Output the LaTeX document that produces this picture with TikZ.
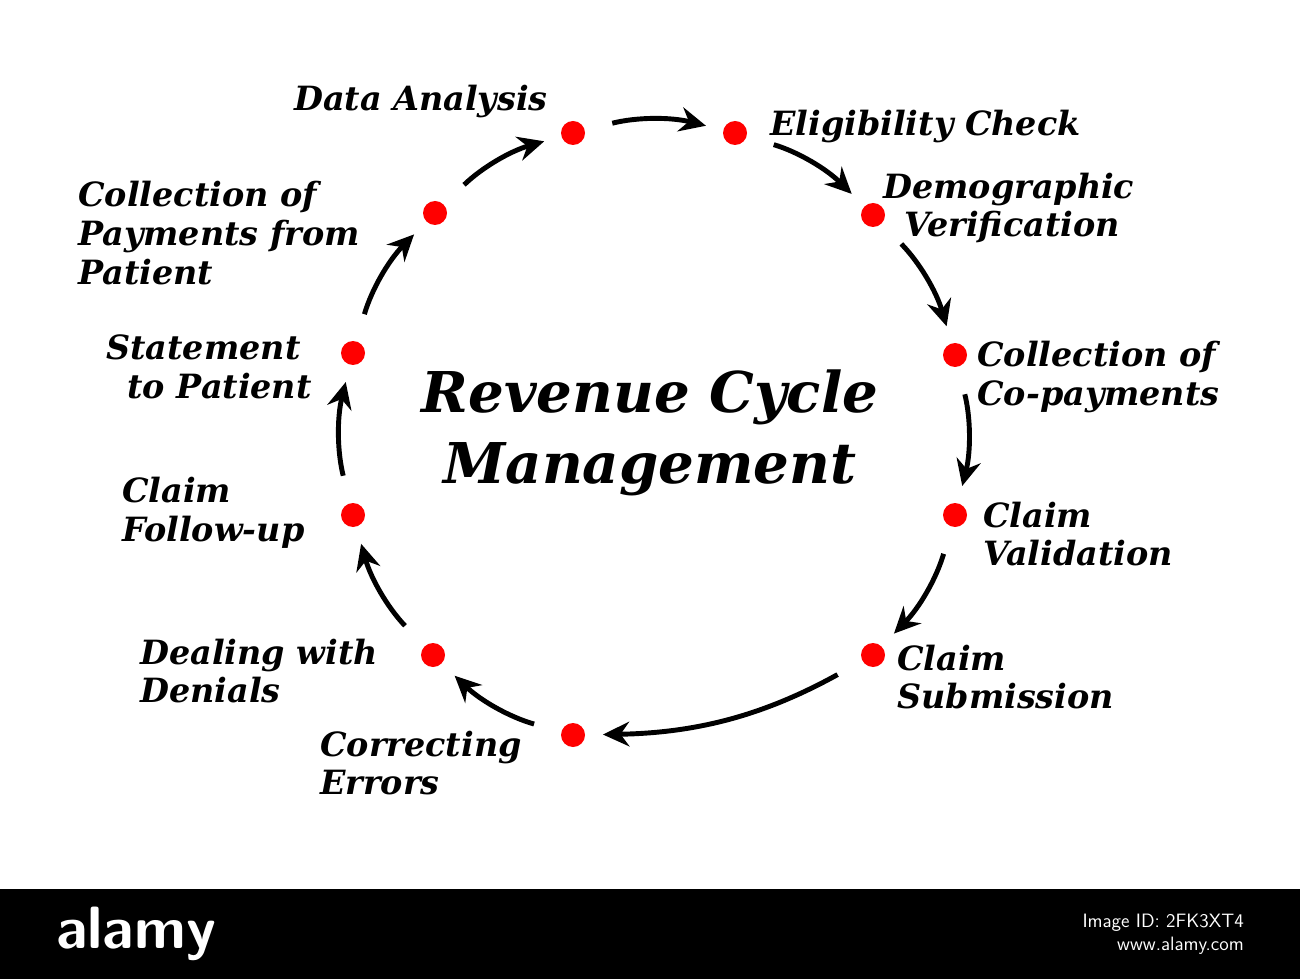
\documentclass[tikz,border=0pt]{standalone}
\usepackage{fontspec}
\setmainfont{DejaVu Serif}
\usetikzlibrary{arrows.meta}
\begin{document}
\begin{tikzpicture}[x=0.02cm,y=-0.02cm,
 dot/.style={circle,fill=red,inner sep=0pt,minimum size=24*0.02cm},
 lbl/.style={font=\fontsize{19}{22}\selectfont\itshape\bfseries,inner sep=0pt,align=left},
 arr/.style={-{Stealth[length=15pt,width=14pt,inset=5pt]},line width=2.8pt,shorten <=16pt,shorten >=10pt}]
\useasboundingbox (0,0) rectangle (1300,979);
\fill[white] (0,0) rectangle (1300,889);
\fill[black] (0,889) rectangle (1300,979);
\node[white,font=\fontsize{34}{36}\selectfont\sffamily\bfseries,anchor=west] (al) at (50,934) {alamy};
\node[white,font=\fontsize{11}{13}\selectfont\sffamily,align=right,anchor=east] (id) at (1250,934) {Image ID: 2FK3XT4\\www.alamy.com};
\node[dot] (a) at (573,133) {};
\node[dot] (b) at (735,133) {};
\node[dot] (c) at (873,215) {};
\node[dot] (d) at (955,355) {};
\node[dot] (e) at (955,515) {};
\node[dot] (f) at (873,655) {};
\node[dot] (g) at (573,735) {};
\node[dot] (h) at (433,655) {};
\node[dot] (i) at (353,515) {};
\node[dot] (j) at (353,353) {};
\node[dot] (k) at (435,213) {};
\foreach \p/\q in {a/b,b/c,c/d,d/e,e/f,f/g,g/h,h/i,i/j,j/k,k/a}
  \draw[arr] (\p) to[bend left=14] (\q);
\node[lbl,anchor=east] (la) at (548,102) {Data Analysis};
\node[lbl,anchor=west] (lb) at (770,127) {Eligibility Check};
\node[lbl,anchor=west] (lc) at (883,208) {Demographic\\\hspace*{12pt}Verification};
\node[lbl,anchor=west] (ld) at (977,377) {Collection of\\Co-payments};
\node[lbl,anchor=west] (le) at (983,534) {Claim\\Validation};
\node[lbl,anchor=west] (lf) at (897,677) {Claim\\Submission};
\node[lbl,anchor=west] (lg) at (320,763) {Correcting\\Errors};
\node[lbl,anchor=west] (lh) at (140,671) {Dealing with\\Denials};
\node[lbl,anchor=west] (li) at (122,513) {Claim\\Follow-up};
\node[lbl,anchor=east,align=left] (lj) at (312,367) {Statement\\\hspace*{12pt}to Patient};
\node[lbl,anchor=west] (lk) at (78,233) {Collection of\\Payments from\\Patient};
\node[font=\fontsize{32}{40}\selectfont\itshape\bfseries,align=center] (t) at (650,433) {Revenue Cycle\\Management};
\end{tikzpicture}
\end{document}
